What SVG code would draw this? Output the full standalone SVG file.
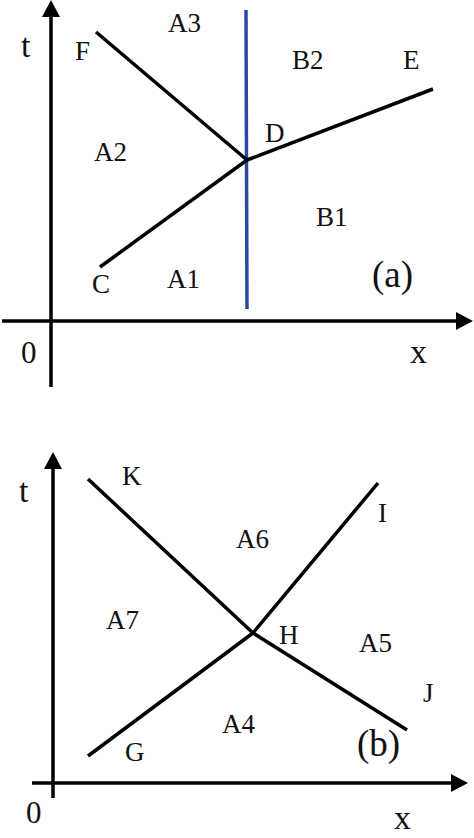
<svg xmlns="http://www.w3.org/2000/svg" width="474" height="838" viewBox="0 0 474 838">
<style>
.axis{stroke:#000;stroke-width:3.5;fill:none}
.wave{stroke:#000;stroke-width:3.5;fill:none;stroke-linejoin:round}
.blue{stroke:#2a48a0;stroke-width:3.5;fill:none}
text{font-family:"Liberation Serif","Times New Roman",serif;fill:#111}
.lbl{font-size:27px}
.ax{font-size:31px}
.tt{font-size:34px}
.cap{font-size:37px}
</style>
<defs>
<marker id="arr" markerUnits="userSpaceOnUse" markerWidth="18" markerHeight="20" refX="0" refY="9" orient="auto">
<path d="M0,0 L17,9 L0,18 z" fill="#000"/>
</marker>
</defs>
<rect width="474" height="838" fill="#fff"/>
<g id="connectors">
<line class="axis" x1="51" y1="387" x2="51" y2="17" marker-end="url(#arr)"/>
<line class="axis" x1="2" y1="321" x2="456" y2="321" marker-end="url(#arr)"/>
<line class="blue" x1="246" y1="10" x2="247" y2="309"/>
<polyline class="wave" points="96,32 247,160 433,89"/>
<line class="wave" x1="100" y1="267" x2="247" y2="160"/>
<line class="axis" x1="53" y1="798" x2="53" y2="469" marker-end="url(#arr)"/>
<line class="axis" x1="32" y1="783" x2="451" y2="783" marker-end="url(#arr)"/>
<polyline class="wave" points="88,479 253,633 407,730"/>
<polyline class="wave" points="88,756 253,633 378,483"/>
</g>
<g id="panel-a-labels">
<text class="tt" x="21" y="57">t</text>
<text class="ax" x="21" y="363">0</text>
<text class="tt" x="410" y="363">x</text>
<g id="F"><text class="lbl" x="75" y="60">F</text></g>
<g id="A3"><text class="lbl" x="168" y="32">A3</text></g>
<g id="B2"><text class="lbl" x="292" y="69">B2</text></g>
<g id="E"><text class="lbl" x="403" y="69">E</text></g>
<g id="D"><text class="lbl" x="265" y="142">D</text></g>
<g id="A2"><text class="lbl" x="94" y="161">A2</text></g>
<g id="B1"><text class="lbl" x="316" y="226">B1</text></g>
<g id="C"><text class="lbl" x="92" y="293">C</text></g>
<g id="A1"><text class="lbl" x="167" y="288">A1</text></g>
<text class="cap" x="372" y="287">(a)</text>
</g>
<g id="panel-b-labels">
<text class="tt" x="19" y="502">t</text>
<text class="ax" x="26" y="823">0</text>
<text class="tt" x="394" y="829">x</text>
<g id="K"><text class="lbl" x="122" y="485">K</text></g>
<g id="I"><text class="lbl" x="378" y="522">I</text></g>
<g id="A6"><text class="lbl" x="236" y="548">A6</text></g>
<g id="A7"><text class="lbl" x="106" y="629">A7</text></g>
<g id="H"><text class="lbl" x="279" y="644">H</text></g>
<g id="A5"><text class="lbl" x="359" y="652">A5</text></g>
<g id="J"><text class="lbl" x="423" y="702">J</text></g>
<g id="A4"><text class="lbl" x="222" y="733">A4</text></g>
<g id="G"><text class="lbl" x="125" y="761">G</text></g>
<text class="cap" x="357" y="756">(b)</text>
</g>
</svg>
